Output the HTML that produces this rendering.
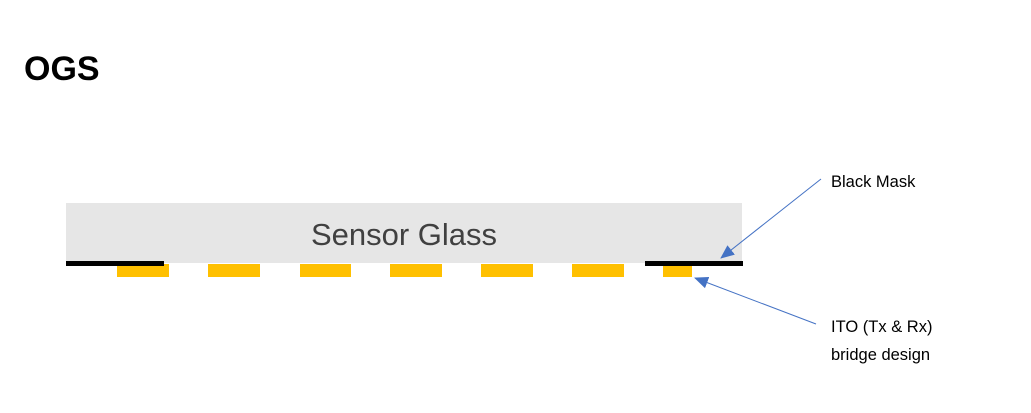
<!DOCTYPE html>
<html><head><style>
body{margin:0;width:1031px;height:413px;background:#fff;position:relative;overflow:hidden;font-family:"Liberation Sans",sans-serif}
div{position:absolute}
.y{background:#ffc000;top:264px;height:13px}
.t{font-size:16px;color:#000;line-height:28px}
</style></head><body>
<div style="left:24px;top:50px;font-size:34px;font-weight:bold">OGS</div>
<div style="left:66px;top:203px;width:676px;height:60px;background:#e6e6e6"></div>
<div style="left:66px;top:217px;width:676px;text-align:center;font-size:31px;color:#404040;line-height:36px">Sensor Glass</div>
<div class="y" style="left:117px;width:52px"></div>
<div class="y" style="left:208px;width:52px"></div>
<div class="y" style="left:300px;width:51px"></div>
<div class="y" style="left:390px;width:52px"></div>
<div class="y" style="left:481px;width:52px"></div>
<div class="y" style="left:572px;width:52px"></div>
<div class="y" style="left:663px;width:29px"></div>
<div style="left:66px;top:261px;width:98px;height:5px;background:#000"></div>
<div style="left:645px;top:261px;width:98px;height:5px;background:#000"></div>
<svg style="position:absolute;left:0;top:0" width="1031" height="413">
<defs><marker id="a" markerWidth="14" markerHeight="12" refX="13" refY="6" orient="auto" markerUnits="userSpaceOnUse"><path d="M0,0L14,6L0,12z" fill="#4472c4"/></marker></defs>
<line x1="821" y1="179" x2="721" y2="258" stroke="#4472c4" stroke-width="1" marker-end="url(#a)"/>
<line x1="816" y1="324" x2="695" y2="278" stroke="#4472c4" stroke-width="1" marker-end="url(#a)"/>
</svg>
<div class="t" style="left:831px;top:168px;font-size:16.5px">Black Mask</div>
<div class="t" style="left:831px;top:313px;font-size:16.5px">ITO (Tx &amp; Rx)<br>bridge design</div>
</body></html>
